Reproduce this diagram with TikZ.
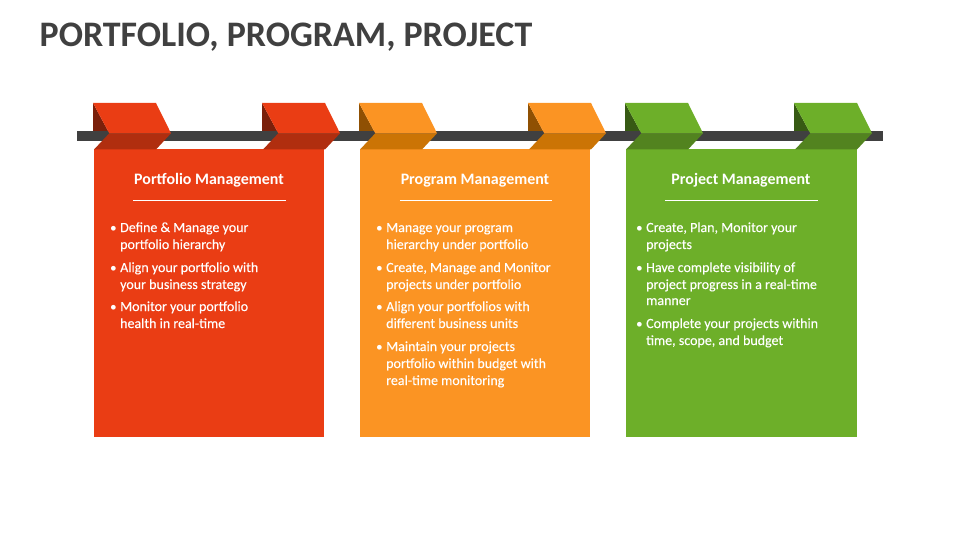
\documentclass[tikz,border=0pt]{standalone}
\usepackage{fontspec}
\setmainfont{Carlito}
\definecolor{barc}{HTML}{404040}
\definecolor{redA}{HTML}{EA3D14}\definecolor{redB}{HTML}{B02E0F}\definecolor{redC}{HTML}{7A200B}
\definecolor{oraA}{HTML}{FB9423}\definecolor{oraB}{HTML}{CB7405}\definecolor{oraC}{HTML}{8F5003}
\definecolor{greA}{HTML}{6DAF29}\definecolor{greB}{HTML}{52831F}\definecolor{greC}{HTML}{375A14}
\tikzset{
 titletext/.style={anchor=base west,inner sep=0pt,text=barc,font=\bfseries\fontsize{35.9}{40}\selectfont},
 headtext/.style={anchor=base,inner sep=0pt,text=white,font=\bfseries\fontsize{15.95}{18}\selectfont},
 bodytext/.style={anchor=base west,inner sep=0pt,text=white,font=\fontsize{14}{16}\selectfont\addfontfeature{FakeBold=0.15}},
 bullettext/.style={anchor=base,inner sep=0pt,text=white,font=\fontsize{13.4}{16}\selectfont},
}
% flag: #1 left x, #2 front, #3 fold, #4 shadow
\newcommand{\flagback}[2]{\fill[#2] (#1,103) -- (#1+16.3,133.3) -- (#1,133.3) -- cycle;}
\newcommand{\flagfront}[3]{%
 \fill[#3] (#1+16.3,133.3) -- (#1+78,133.3) -- (#1+63,149.5) -- (#1+1,149.5) -- cycle;
 \fill[#2] (#1,103) -- (#1+63,103) -- (#1+78,133.3) -- (#1+16.3,133.3) -- cycle;}
\newcommand{\bul}[4]{\node[bullettext] (b#1) at (#2,#4) {•};}
\newcommand{\txt}[4]{\node[bodytext] (t#1) at (#2,#3) {#4};}
\begin{document}
\begin{tikzpicture}[x=1pt,y=-1pt]
\useasboundingbox (0,0) rectangle (960,540);
\node[titletext] (title) at (39.5,46.7) {PORTFOLIO, PROGRAM, PROJECT};
% back shadows
\flagback{93}{redC}\flagback{262}{redC}
\flagback{359}{oraC}\flagback{528}{oraC}
\flagback{625}{greC}\flagback{794}{greC}
% bar
\fill[barc] (77,131) rectangle (883,141);
% cards
\fill[redA] (94,149) rectangle (324,437);
\fill[oraA] (360,149) rectangle (590,437);
\fill[greA] (626,149) rectangle (857,437);
% flags
\flagfront{93}{redA}{redB}\flagfront{262}{redA}{redB}
\flagfront{359}{oraA}{oraB}\flagfront{528}{oraA}{oraB}
\flagfront{625}{greA}{greB}\flagfront{794}{greA}{greB}
% headings
\node[headtext] (h1) at (209,184) {Portfolio Management};
\node[headtext] (h2) at (475,184) {Program Management};
\node[headtext] (h3) at (741,184) {Project Management};
\fill[white] (133,199.7) rectangle (285.5,201);
\fill[white] (399.5,199.7) rectangle (551.5,201);
\fill[white] (665,199.7) rectangle (817.5,201);
% card 1
\bul{a1}{113.5}{}{232}\txt{a1}{120}{232}{Define \& Manage your}
\txt{a2}{120}{249}{portfolio hierarchy}
\bul{a3}{113.5}{}{272}\txt{a3}{120}{272}{Align your portfolio with}
\txt{a4}{120}{289}{your business strategy}
\bul{a5}{113.5}{}{311}\txt{a5}{120}{311}{Monitor your portfolio}
\txt{a6}{120}{328}{health in real-time}
% card 2
\bul{b1}{379.5}{}{232}\txt{b1}{386}{232}{Manage your program}
\txt{b2}{386}{249}{hierarchy under portfolio}
\bul{b3}{379.5}{}{272}\txt{b3}{386}{272}{Create, Manage and Monitor}
\txt{b4}{386}{289}{projects under portfolio}
\bul{b5}{379.5}{}{311}\txt{b5}{386}{311}{Align your portfolios with}
\txt{b6}{386}{328}{different business units}
\bul{b7}{379.5}{}{351}\txt{b7}{386}{351}{Maintain your projects}
\txt{b8}{386}{368}{portfolio within budget with}
\txt{b9}{386}{385}{real-time monitoring}
% card 3
\bul{c1}{639.5}{}{232}\txt{c1}{646}{232}{Create, Plan, Monitor your}
\txt{c2}{646}{249}{projects}
\bul{c3}{639.5}{}{272}\txt{c3}{646}{272}{Have complete visibility of}
\txt{c4}{646}{289}{project progress in a real-time}
\txt{c5}{646}{305}{manner}
\bul{c6}{639.5}{}{328}\txt{c6}{646}{328}{Complete your projects within}
\txt{c7}{646}{345}{time, scope, and budget}
\end{tikzpicture}
\end{document}
